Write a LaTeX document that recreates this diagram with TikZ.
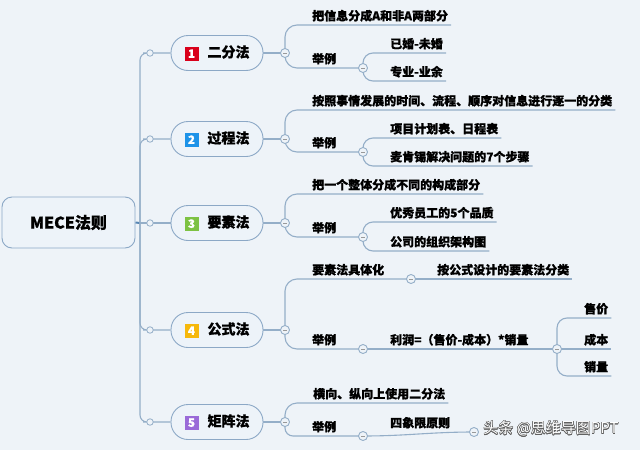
\documentclass[tikz,border=0pt]{standalone}
\usepackage{fontspec}
\setmainfont{Noto Sans CJK SC}[BoldFeatures={FakeBold=0.8}]
\usepackage{contour}
\usetikzlibrary{backgrounds}
\definecolor{bgC}{HTML}{EEF3F8}
\definecolor{lineC}{HTML}{94AEC8}
\definecolor{boxC}{HTML}{8CA8C6}
\definecolor{boxF}{HTML}{EDF3F9}
\definecolor{rootL}{HTML}{5685B3}
\definecolor{bRed}{HTML}{D9001B}
\definecolor{bBlue}{HTML}{1E93E8}
\definecolor{bGreen}{HTML}{7DC243}
\definecolor{bYellow}{HTML}{F6B80B}
\definecolor{bPurple}{HTML}{9A6AD8}
\newcommand\numbadge[2]{{\setlength\fboxsep{0pt}\colorbox{#1}{\parbox[c][14pt][c]{14pt}{\centering\color{white}\fontsize{11.5}{11.5}\selectfont\bfseries #2}}}}
\contourlength{0.4pt}
\begin{document}
\begin{tikzpicture}[x=1pt,y=-1pt,
  conn/.style={draw=lineC, line width=1.1pt, rounded corners=10pt},
  mainbox/.style={draw=boxC, fill=boxF, line width=0.9pt, rounded corners=17pt, minimum width=92pt, minimum height=35pt, inner sep=0pt, font=\fontsize{14}{14}\selectfont\bfseries},
  rootbox/.style={draw=boxC, fill=boxF, line width=0.9pt, rounded corners=10pt, minimum width=133pt, minimum height=51pt, inner sep=0pt, font=\fontsize{16}{16}\selectfont\bfseries},
  leaf/.style={anchor=south west, inner xsep=3pt, inner ysep=2.5pt, text height=9.5pt, text depth=2pt, font=\fontsize{12}{12}\selectfont\bfseries},
  fold/.style={circle, draw=lineC, fill=bgC, line width=0.9pt, minimum size=9pt, inner sep=0pt,
    path picture={\draw[draw=gray!80, line width=0.8pt] ([xshift=-2pt]path picture bounding box.center) -- ([xshift=2pt]path picture bounding box.center);}},
  knot/.style={circle, draw=lineC, fill=bgC, line width=0.8pt, minimum size=6.5pt, inner sep=0pt}]
\useasboundingbox (0,0) rectangle (640,450);

% root
\node[rootbox] (root) at (68.5,222.5) {MECE法则};
\coordinate (J) at (140,223);

% main nodes
\node[mainbox] (m1) at (217,53) {\numbadge{bRed}{1}\hspace{9pt}二分法};
\node[mainbox] (m2) at (217,139) {\numbadge{bBlue}{2}\hspace{9pt}过程法};
\node[mainbox] (m3) at (217,223) {\numbadge{bGreen}{3}\hspace{9pt}要素法};
\node[mainbox] (m4) at (217,330) {\numbadge{bYellow}{4}\hspace{9pt}公式法};
\node[mainbox] (m5) at (217,422) {\numbadge{bPurple}{5}\hspace{9pt}矩阵法};

\foreach \i/\y in {1/53,2/139,3/223,4/330,5/422}{
  \node[knot] (o\i) at (150,\y) {};
  \node[fold] (c\i) at (285,\y) {};
}

% branch 1
\node[leaf] (a1) at (309,25) {把信息分成A和非A两部分};
\node[leaf] (e1) at (309,68) {举例};
\node[fold] (d1) at (363,68) {};
\node[leaf] (b1) at (387,53) {已婚-未婚};
\node[leaf] (b2) at (387,81) {专业-业余};

% branch 2
\node[leaf] (a2) at (309,110) {按照事情发展的时间、流程、顺序对信息进行逐一的分类};
\node[leaf] (e2) at (309,152) {举例};
\node[fold] (d2) at (363,152) {};
\node[leaf] (b3) at (387,138) {项目计划表、日程表};
\node[leaf] (b4) at (387,166) {麦肯锡解决问题的7个步骤};

% branch 3
\node[leaf] (a3) at (309,194) {把一个整体分成不同的构成部分};
\node[leaf] (e3) at (309,237) {举例};
\node[fold] (d3) at (363,237) {};
\node[leaf] (b5) at (387,222) {优秀员工的5个品质};
\node[leaf] (b6) at (387,251) {公司的组织架构图};

% branch 4
\node[leaf] (a4) at (309,279) {要素法具体化};
\node[fold] (f4) at (411,279) {};
\node[leaf] (a4b) at (434,279) {按公式设计的要素法分类};
\node[leaf] (e4) at (309,349) {举例};
\node[fold] (d4) at (363,349) {};
\node[leaf] (p4) at (387,349) {利润=（售价-成本）*销量};
\node[fold] (g4) at (557,349) {};
\node[leaf] (s1) at (581,318) {售价};
\node[leaf] (s2) at (581,349) {成本};
\node[leaf] (s3) at (581,376) {销量};

% branch 5
\node[leaf] (a5) at (310,403) {横向、纵向上使用二分法};
\node[leaf] (e5) at (309,436) {举例};
\node[fold] (d5) at (363,436) {};
\node[leaf] (q5) at (387,432) {四象限原则};
\node[fold] (h5) at (474,432) {};

% watermark
\node[font=\fontsize{15}{15}\selectfont, text=white, inner sep=0pt] (wm) at (551,429) {\contour{gray!75!black}{头条 @思维导图PPT}};

\begin{pgfonlayer}{background}
  \fill[bgC] (0,0) rectangle (640,450);
  % trunk
  \draw[rootL, line width=2pt] (root.east) -- (J);
  \draw[conn, rounded corners=7pt] (J) |- (o1.center) -- (m1.west);
  \draw[conn, rounded corners=7pt] (J) |- (o2.center) -- (m2.west);
  \draw[conn] (J) -- (o3.center) -- (m3.west);
  \draw[conn, rounded corners=7pt] (J) |- (o4.center) -- (m4.west);
  \draw[conn, rounded corners=7pt] (J) |- (o5.center) -- (m5.west);
  \foreach \i in {1,...,5}{ \draw[conn] (m\i.east) -- (c\i.center); }
  % level 2
  \draw[conn, rounded corners=12pt] (c1.center) |- (a1.south east);
  \draw[conn, rounded corners=12pt] (c1.center) |- (d1.center);
  \draw[conn] (d1.center) |- (b1.south east);
  \draw[conn] (d1.center) |- (b2.south east);
  \draw[conn, rounded corners=12pt] (c2.center) |- (a2.south east);
  \draw[conn, rounded corners=12pt] (c2.center) |- (d2.center);
  \draw[conn] (d2.center) |- (b3.south east);
  \draw[conn] (d2.center) |- (b4.south east);
  \draw[conn, rounded corners=12pt] (c3.center) |- (a3.south east);
  \draw[conn, rounded corners=12pt] (c3.center) |- (d3.center);
  \draw[conn] (d3.center) |- (b5.south east);
  \draw[conn] (d3.center) |- (b6.south east);
  \draw[conn, rounded corners=12pt] (c4.center) |- (f4.center);
  \draw[conn] (f4.center) -- (a4b.south east);
  \draw[conn, rounded corners=12pt] (c4.center) |- (d4.center);
  \draw[conn] (d4.center) -- (g4.center);
  \draw[conn] (g4.center) |- (s1.south east);
  \draw[conn] (g4.center) -- (s2.south east);
  \draw[conn] (g4.center) |- (s3.south east);
  \draw[conn, rounded corners=12pt] (c5.center) |- (a5.south east);
  \draw[conn, rounded corners=8pt] (c5.center) |- (d5.center);
  \draw[conn] (d5.center) to[out=0,in=180] (h5.center);
\end{pgfonlayer}
\end{tikzpicture}
\end{document}
